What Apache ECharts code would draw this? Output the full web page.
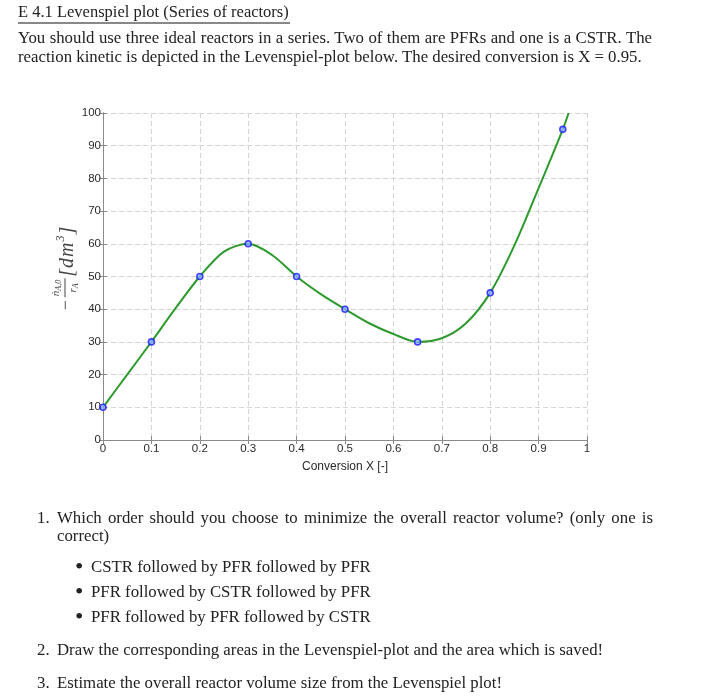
<!DOCTYPE html>
<html>
<head>
<meta charset="utf-8">
<script src="https://cdn.jsdelivr.net/npm/echarts@6/dist/echarts.min.js"></script>
<style>
  html, body { margin: 0; padding: 0; background: #fff; }
  #page { position: relative; width: 726px; height: 699px; overflow: hidden; }
  #chart { position: absolute; left: 0; top: 0; width: 726px; height: 699px; }
  .t { position: absolute; font-family: "Liberation Serif", "DejaVu Serif", serif; font-size: 16.8px; line-height: 18px; color: #222; white-space: nowrap; }
  .j { text-align: justify; text-align-last: justify; white-space: normal; }
  .b { font-size: 24px; }
  #title { left: 18px; top: 3px; border-bottom: 2px solid #888; padding: 0 1px 1px 0; font-size: 16.5px; }
  #ylab { position: absolute; left: 65px; top: 268px; transform: translate(-50%, -50%) rotate(-90deg); font-family: "Liberation Serif", serif; font-style: italic; color: #444; white-space: nowrap; display: flex; align-items: center; }
  .minus { font-size: 18px; font-style: normal; margin-right: 2px; }
  .frac { display: inline-flex; flex-direction: column; align-items: center; font-size: 11px; line-height: 10px; margin: 0 2px 0 1px; }
  .frac .n { border-bottom: 1px solid #444; padding: 0 1px 1px 1px; }
  .frac .d { padding-top: 1px; }
  .frac sub { font-size: 8px; vertical-align: -2px; }
  .unit { font-size: 20px; letter-spacing: 1px; }
  .unit sup { font-size: 12px; vertical-align: 9px; }
</style>
</head>
<body>
<div id="page">
  <div id="chart"></div>
  <div class="t" id="title">E 4.1 Levenspiel plot (Series of reactors)</div>
  <div class="t j" style="left:18px; top:29px; width:634px;">You should use three ideal reactors in a series. Two of them are PFRs and one is a CSTR. The</div>
  <div class="t" style="left:18px; top:48px;">reaction kinetic is depicted in the Levenspiel-plot below. The desired conversion is X = 0.95.</div>
  <div id="ylab"><span class="minus">−</span><span class="frac"><span class="n">ṅ<sub>A,0</sub></span><span class="d">r<sub>A</sub></span></span><span class="unit">[dm<sup>3</sup>]</span></div>

  <div class="t" style="left:37px; top:509px;">1.</div>
  <div class="t j" style="left:57px; top:509px; width:596px;">Which order should you choose to minimize the overall reactor volume? (only one is</div>
  <div class="t" style="left:57px; top:527px;">correct)</div>
  <div class="t b" style="left:75px; top:557px;">•</div>
  <div class="t" style="left:91px; top:558px;">CSTR followed by PFR followed by PFR</div>
  <div class="t b" style="left:75px; top:582px;">•</div>
  <div class="t" style="left:91px; top:583px;">PFR followed by CSTR followed by PFR</div>
  <div class="t b" style="left:75px; top:607px;">•</div>
  <div class="t" style="left:91px; top:608px;">PFR followed by PFR followed by CSTR</div>
  <div class="t" style="left:37px; top:641px;">2.</div>
  <div class="t" style="left:57px; top:641px;">Draw the corresponding areas in the Levenspiel-plot and the area which is saved!</div>
  <div class="t" style="left:37px; top:674px;">3.</div>
  <div class="t" style="left:57px; top:674px;">Estimate the overall reactor volume size from the Levenspiel plot!</div>
</div>
<script>
// Measured data points (blue markers)
const pointX = [0, 0.1, 0.2, 0.3, 0.4, 0.5, 0.65, 0.8, 0.95];
const pointY = [10, 30, 50, 60, 50, 40, 30, 45, 95];

// Fitted curve (green line)
const curveX = [0, 0.05, 0.1, 0.15, 0.2, 0.25, 0.3, 0.35, 0.4, 0.45, 0.5, 0.55, 0.6, 0.65, 0.7, 0.75, 0.8, 0.85, 0.9, 0.95, 0.962];
const curveY = [10, 20, 30, 40.3, 50, 57.6, 60, 56.5, 50, 44.6, 40, 35.7, 32.4, 30, 31.1, 35.7, 45, 59.5, 77, 95, 100];

// Axis ticks
const xTicks = [0, 0.1, 0.2, 0.3, 0.4, 0.5, 0.6, 0.7, 0.8, 0.9, 1];
const yTicks = [0, 10, 20, 30, 40, 50, 60, 70, 80, 90, 100];

const chart = echarts.init(document.getElementById('chart'));
const axisColor = '#8a8a8a';
const labelStyle = { color: '#2a2a2a', fontFamily: 'Liberation Sans, Arial, sans-serif', fontSize: 11.5 };

const option = {
  animation: false,
  grid: { left: 103, top: 113, width: 484, height: 327, containLabel: false },
  xAxis: [{
    type: 'value', min: xTicks[0], max: xTicks[xTicks.length - 1], interval: 0.1, position: 'bottom',
    name: 'Conversion X [-]', nameLocation: 'middle', nameGap: 21,
    nameTextStyle: { color: '#2a2a2a', fontFamily: 'Liberation Sans, Arial, sans-serif', fontSize: 12 },
    axisLine: { show: true, lineStyle: { color: axisColor, width: 1 } },
    axisTick: { show: true, inside: true, length: 4, lineStyle: { color: axisColor } },
    axisLabel: Object.assign({ margin: 3, formatter: v => String(Math.round(v * 10) / 10) }, labelStyle),
    splitLine: { show: true, lineStyle: { color: '#d4d4d4', type: [5, 3], width: 1 } }
  }, {
    type: 'value', min: 0, max: 1, interval: 0.1, position: 'top',
    axisLine: { show: true, lineStyle: { color: axisColor, width: 1 } },
    axisTick: { show: true, inside: true, length: 4, lineStyle: { color: axisColor } },
    axisLabel: { show: false }, splitLine: { show: false }
  }],
  yAxis: [{
    type: 'value', min: yTicks[0], max: yTicks[yTicks.length - 1], interval: 10, position: 'left',
    axisLine: { show: true, lineStyle: { color: axisColor, width: 1 } },
    axisTick: { show: true, inside: true, length: 4, lineStyle: { color: axisColor } },
    axisLabel: Object.assign({ margin: 2 }, labelStyle),
    splitLine: { show: true, lineStyle: { color: '#d4d4d4', type: [5, 3], width: 1 } }
  }, {
    type: 'value', min: 0, max: 100, interval: 10, position: 'right',
    axisLine: { show: true, lineStyle: { color: axisColor, width: 1 } },
    axisTick: { show: true, inside: true, length: 4, lineStyle: { color: axisColor } },
    axisLabel: { show: false }, splitLine: { show: false }
  }],
  series: [{
    type: 'line',
    data: curveX.map((x, i) => [x, curveY[i]]),
    smooth: 0.3,
    showSymbol: false,
    clip: true,
    lineStyle: { color: '#2e9a2e', width: 2 },
    z: 2
  }, {
    type: 'scatter',
    data: pointX.map((x, i) => [x, pointY[i]]),
    symbol: 'circle',
    symbolSize: 6,
    itemStyle: { color: '#8fb0ff', borderColor: '#1a1aff', borderWidth: 1.6 },
    z: 3
  }]
};
chart.setOption(option);
</script>
</body>
</html>
